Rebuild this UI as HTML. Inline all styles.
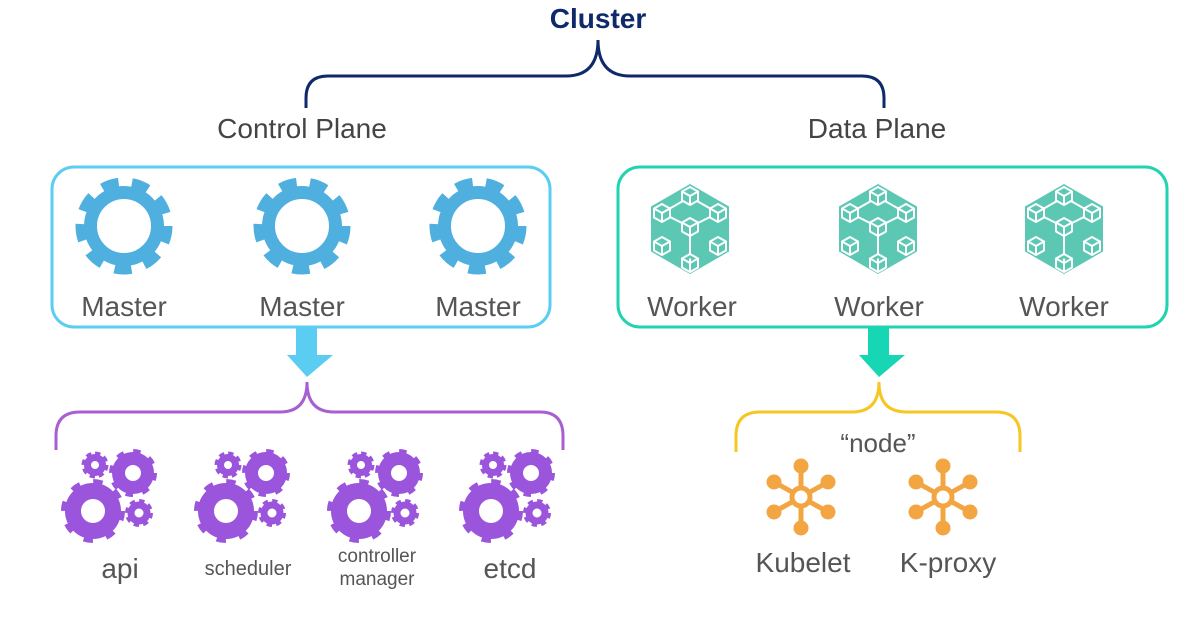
<!DOCTYPE html>
<html><head><meta charset="utf-8"><style>
html,body{margin:0;padding:0;background:#fff}
svg{display:block}
text{font-family:"Liberation Sans",sans-serif}
</style></head><body>
<svg width="1200" height="630" viewBox="0 0 1200 630" xmlns="http://www.w3.org/2000/svg">
<defs>
<g id="bgear">
<circle r="33.5" fill="none" stroke="#4fb0e0" stroke-width="13"/>
<circle r="43.5" fill="none" stroke="#4fb0e0" stroke-width="10" stroke-dasharray="17 13.37"/>
</g>
<g id="pg">
<g transform="translate(93,511)"><circle r="20" fill="none" stroke="#9b55dd" stroke-width="16"/><circle r="28" fill="none" stroke="#9b55dd" stroke-width="8" stroke-dasharray="9 12.99"/></g>
<g transform="translate(133,473)"><circle r="14.5" fill="none" stroke="#9b55dd" stroke-width="13"/><circle r="20.5" fill="none" stroke="#9b55dd" stroke-width="7" stroke-dasharray="7 9.1"/></g>
<g transform="translate(95,465)"><circle r="7.5" fill="none" stroke="#9b55dd" stroke-width="7"/><circle r="11" fill="none" stroke="#9b55dd" stroke-width="5" stroke-dasharray="5 3.6"/></g>
<g transform="translate(139,513)"><circle r="8" fill="none" stroke="#9b55dd" stroke-width="7"/><circle r="11.5" fill="none" stroke="#9b55dd" stroke-width="5" stroke-dasharray="5 4"/></g>
</g>
<path id="mc" d="M0,-9 L8,-4.5 L8,4.5 L0,9 L-8,4.5 L-8,-4.5 Z M-8,-4.5 L0,0 L8,-4.5 M0,0 L0,9" fill="#5cc8b4" stroke="#fff" stroke-width="2" stroke-linejoin="round"/>
<g id="cube">
<polygon points="0,-45 39,-22.5 39,22.5 0,45 -39,22.5 -39,-22.5" fill="#5cc8b4"/>
<path d="M0,-2 L-28,-16 M0,-2 L28,-16 M0,-2 L0,34 M0,-32 L-28,-16 M0,-32 L28,-16" stroke="#fff" stroke-width="2"/>
<use href="#mc" x="0" y="-33"/>
<use href="#mc" x="-28" y="-16"/>
<use href="#mc" x="28" y="-16"/>
<use href="#mc" x="0" y="-2"/>
<use href="#mc" x="-28" y="17"/>
<use href="#mc" x="28" y="17"/>
<use href="#mc" x="0" y="34"/>
</g>
<g id="hub" stroke="#f2a541" fill="#f2a541">
<g stroke-width="5">
<line x1="0" y1="0" x2="0" y2="-31"/><line x1="0" y1="0" x2="0" y2="31"/>
<line x1="0" y1="0" x2="-27" y2="-15"/><line x1="0" y1="0" x2="27" y2="-15"/>
<line x1="0" y1="0" x2="-27" y2="15"/><line x1="0" y1="0" x2="27" y2="15"/>
</g>
<circle cx="0" cy="-31" r="7.5" stroke="none"/><circle cx="0" cy="31" r="7.5" stroke="none"/>
<circle cx="-27" cy="-15" r="7.5" stroke="none"/><circle cx="27" cy="-15" r="7.5" stroke="none"/>
<circle cx="-27" cy="15" r="7.5" stroke="none"/><circle cx="27" cy="15" r="7.5" stroke="none"/>
<circle r="9" fill="#fff" stroke-width="5"/>
</g>
</defs>

<text x="598" y="28" text-anchor="middle" font-size="28" font-weight="bold" fill="#0f2a6b">Cluster</text>
<path d="M306,108 L306,98 Q306,76 328,76 L566,76 Q598,76 598,40 Q598,76 630,76 L862,76 Q884,76 884,98 L884,108" fill="none" stroke="#0f2a6b" stroke-width="3"/>

<text x="302" y="138" text-anchor="middle" font-size="28" fill="#444">Control Plane</text>
<text x="877" y="138" text-anchor="middle" font-size="28" fill="#444">Data Plane</text>

<rect x="52" y="167" width="498" height="160" rx="22" fill="none" stroke="#5bcdf3" stroke-width="3"/>
<rect x="618" y="167" width="549" height="160" rx="22" fill="none" stroke="#22d3b0" stroke-width="3"/>

<use href="#bgear" x="124" y="226"/>
<use href="#bgear" x="302" y="226"/>
<use href="#bgear" x="478" y="226"/>
<g font-size="28" fill="#555" text-anchor="middle">
<text x="124" y="316">Master</text><text x="302" y="316">Master</text><text x="478" y="316">Master</text>
<text x="692" y="316">Worker</text><text x="879" y="316">Worker</text><text x="1064" y="316">Worker</text>
</g>
<use href="#cube" x="690" y="229"/>
<use href="#cube" x="878" y="229"/>
<use href="#cube" x="1064" y="229"/>

<polygon points="296,328 317,328 317,355 333,355 307,377 287,355 296,355" fill="#5bcdf3"/>
<polygon points="868,328 889,328 889,355 905,355 879,377 859,355 868,355" fill="#17d6b4"/>

<path d="M56,450 L56,436 Q56,412 80,412 L280,412 Q307,412 307,382 Q307,412 334,412 L540,412 Q563,412 563,436 L563,450" fill="none" stroke="#a75fd2" stroke-width="3"/>
<path d="M736,452 L736,436 Q736,412 760,412 L852,412 Q879,412 879,382 Q879,412 906,412 L996,412 Q1020,412 1020,436 L1020,452" fill="none" stroke="#f6c623" stroke-width="3"/>

<use href="#pg" x="0" y="0"/>
<use href="#pg" x="133" y="0"/>
<use href="#pg" x="266" y="0"/>
<use href="#pg" x="398" y="0"/>

<g fill="#555" text-anchor="middle">
<text x="120" y="578" font-size="28">api</text>
<text x="248" y="575" font-size="20">scheduler</text>
<text x="377" y="562" font-size="19">controller</text>
<text x="377" y="585" font-size="19">manager</text>
<text x="510" y="578" font-size="28">etcd</text>
<text x="878" y="452" font-size="26">“node”</text>
<text x="803" y="572" font-size="28">Kubelet</text>
<text x="948" y="572" font-size="28">K-proxy</text>
</g>
<use href="#hub" x="801" y="497"/>
<use href="#hub" x="943" y="497"/>
</svg>
</body></html>
